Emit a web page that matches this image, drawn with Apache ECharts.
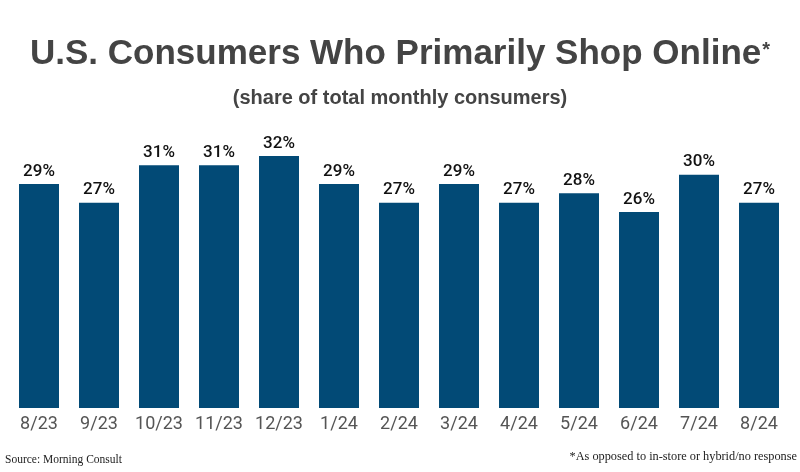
<!DOCTYPE html>
<html>
<head>
<meta charset="utf-8">
<script src="https://cdn.jsdelivr.net/npm/echarts@6/dist/echarts.min.js"></script>
<style>
  html, body { margin: 0; padding: 0; background: #fff; }
  #chart { width: 800px; height: 472px; }
</style>
</head>
<body>
<div id="chart"></div>
<script>
// months shown on the x axis
const months = ['8/23', '9/23', '10/23', '11/23', '12/23', '1/24', '2/24', '3/24', '4/24', '5/24', '6/24', '7/24', '8/24'];
// share of consumers who primarily shop online (%)
const shares = [29, 27, 31, 31, 32, 29, 27, 29, 27, 28, 26, 30, 27];

const sans = "'Liberation Sans', Arial, sans-serif";
const serif = "'Liberation Serif', 'Times New Roman', serif";

const chart = echarts.init(document.getElementById('chart'));

const option = {
  backgroundColor: '#ffffff',
  animation: false,
  title: [
    {
      text: '{t|U.S. Consumers Who Primarily Shop Online}{s|*}',
      left: 'center',
      top: 32,
      textStyle: {
        rich: {
          t: { fontFamily: sans, fontWeight: 'bold', fontSize: 35, color: '#444444' },
          s: { fontFamily: sans, fontWeight: 'bold', fontSize: 20, color: '#444444', verticalAlign: 'top', padding: [3, 0, 0, 1] }
        }
      }
    },
    {
      text: '(share of total monthly consumers)',
      left: 'center',
      top: 83,
      textStyle: { fontFamily: sans, fontWeight: 'bold', fontSize: 20, color: '#444444' }
    },
    {
      text: 'Source: Morning Consult',
      left: 0,
      top: 449,
      textStyle: { fontFamily: serif, fontWeight: 'normal', fontSize: 11.5, color: '#222222' }
    },
    {
      text: '*As opposed to in-store or hybrid/no response',
      right: -2,
      top: 446,
      textStyle: { fontFamily: serif, fontWeight: 'normal', fontSize: 12.3, color: '#222222' }
    }
  ],
  grid: { left: 9, right: 11, top: 128, bottom: 64 },
  xAxis: {
    type: 'category',
    data: months,
    axisLine: { show: false },
    axisTick: { show: false },
    axisLabel: {
      interval: 0,
      hideOverlap: false,
      color: '#555555',
      fontFamily: 'Roboto',
      fontSize: 18,
      margin: 7
    }
  },
  yAxis: {
    type: 'value',
    min: 5,
    max: 35,
    show: false,
    splitLine: { show: false }
  },
  series: [
    {
      type: 'bar',
      data: shares,
      barWidth: 40,
      itemStyle: { color: '#024a76' },
      label: {
        show: true,
        position: 'top',
        distance: 4,
        formatter: '{c}%',
        color: '#111111',
        fontFamily: 'Roboto',
        fontWeight: 500,
        fontSize: 17
      }
    }
  ]
};

chart.setOption(option);
</script>
</body>
</html>
